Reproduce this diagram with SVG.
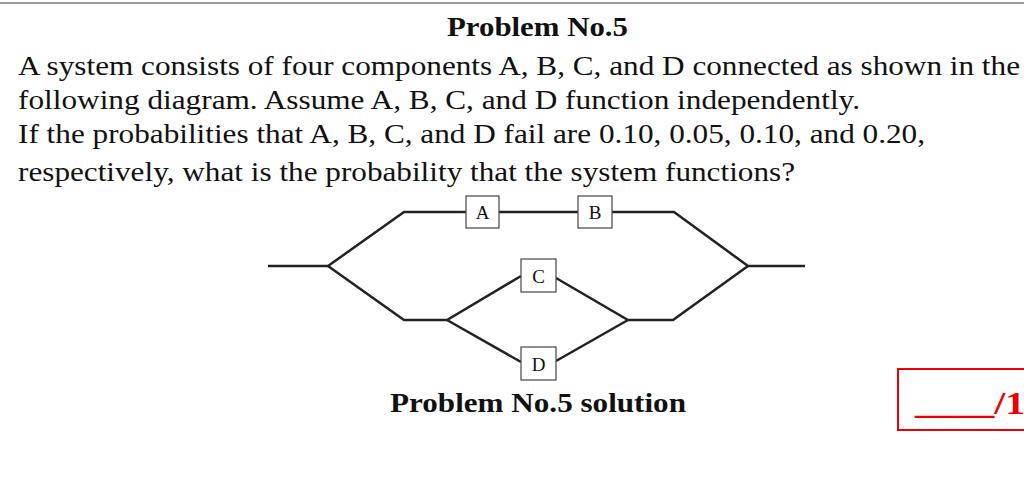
<svg xmlns="http://www.w3.org/2000/svg" width="1024" height="492" viewBox="0 0 1024 492">
<style>
text{font-family:"Liberation Serif","Times New Roman",serif;fill:#111}
.b{font-size:27px}
.h{font-size:27px;font-weight:bold}
.w{fill:none;stroke:#222;stroke-width:2.5}
.box{fill:#fff;stroke:#444;stroke-width:1.2}
.l{font-size:19px;text-anchor:middle}
</style>
<rect width="1024" height="492" fill="#fff"/>
<line x1="0" y1="3" x2="1024" y2="3" stroke="#333" stroke-width="1"/>
<text class="h" x="447" y="36" textLength="181" lengthAdjust="spacingAndGlyphs">Problem No.5</text>
<text class="b" x="18" y="75" textLength="1002" lengthAdjust="spacingAndGlyphs">A system consists of four components A, B, C, and D connected as shown in the</text>
<text class="b" x="18" y="109" textLength="842" lengthAdjust="spacingAndGlyphs">following diagram. Assume A, B, C, and D function independently.</text>
<text class="b" x="18" y="143" textLength="907" lengthAdjust="spacingAndGlyphs">If the probabilities that A, B, C, and D fail are 0.10, 0.05, 0.10, and 0.20,</text>
<text class="b" x="18" y="181" textLength="777" lengthAdjust="spacingAndGlyphs">respectively, what is the probability that the system functions?</text>
<g id="connectors">
<polyline class="w" points="268,266 328,266 404,212 674,212 748,266 805,266"/>
<polyline class="w" points="328,266 404,320 447,320 521,276"/>
<polyline class="w" points="447,320 521,362"/>
<polyline class="w" points="556,278 628,320 673,320 748,266"/>
<polyline class="w" points="556,361 628,320"/>
</g>
<g id="A"><rect class="box" x="466" y="196" width="33" height="32"/><text class="l" x="482.5" y="219">A</text></g>
<g id="B"><rect class="box" x="578" y="196" width="34" height="32"/><text class="l" x="595" y="219">B</text></g>
<g id="C"><rect class="box" x="521" y="259" width="35" height="33"/><text class="l" x="538.5" y="283">C</text></g>
<g id="D"><rect class="box" x="521" y="347" width="35" height="33"/><text class="l" x="538.5" y="371">D</text></g>
<text class="h" x="390" y="412" textLength="296" lengthAdjust="spacingAndGlyphs">Problem No.5 solution</text>
<rect x="898" y="369" width="140" height="61" fill="none" stroke="#e00" stroke-width="2"/>
<text x="915" y="414" style="font-size:32px;font-weight:bold;fill:#e00" textLength="130" lengthAdjust="spacingAndGlyphs">____/10</text>
</svg>
